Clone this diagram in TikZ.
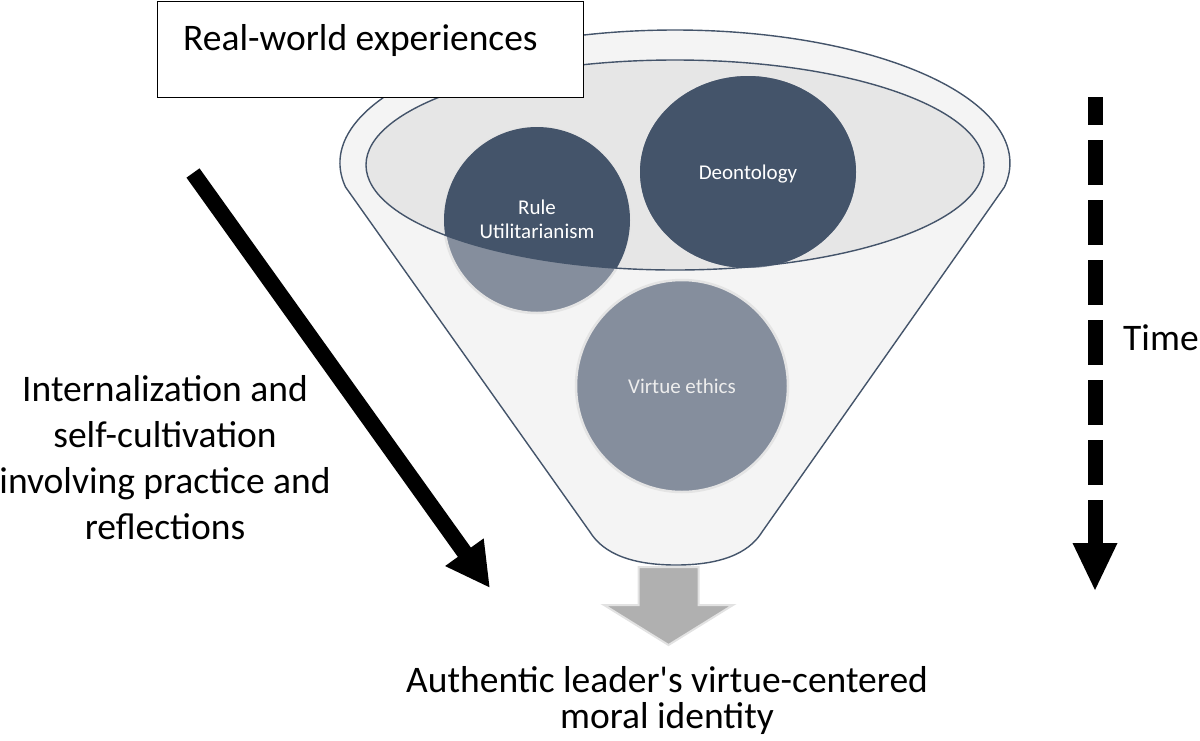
\documentclass[tikz,border=0pt]{standalone}
\usepackage{fontspec}
\setmainfont{Carlito}
\newfontfamily\straightq{Carlito}[Ligatures=ResetAll]
\usetikzlibrary{arrows.meta}
\definecolor{slate}{HTML}{44546A}
\definecolor{slatelt}{HTML}{858E9D}
\definecolor{rimfill}{HTML}{E6E6E6}
\definecolor{funfill}{HTML}{F4F4F4}
\definecolor{glow}{HTML}{E4E4E4}
\definecolor{grayarr}{HTML}{B0B0B0}
\definecolor{grayedge}{HTML}{E2E2E2}
\tikzset{
  bigtext/.style={font=\fontsize{37.5}{46}\selectfont, text=black, inner sep=0pt},
  circtext/.style={font=\fontsize{21}{24}\selectfont, text=white, align=center, inner sep=0pt},
  funline/.style={draw=slate, line width=1.4pt},
  glowline/.style={draw=glow, line width=2.5pt},
}
\begin{document}
\begin{tikzpicture}[x=1pt,y=-1pt]
\useasboundingbox (0,0) rectangle (1200,740);

% funnel body
\path[funline, fill=funfill] (345.5,187) arc[start angle=169.6, end angle=370.4, x radius=335, y radius=133]
  -- (762,532) .. controls (752,548) and (730,565) .. (676,565)
  .. controls (622,565) and (600,548) .. (590,532) -- cycle;

% inner rim
\fill[rimfill] (675,165) ellipse[x radius=309, y radius=105];

% circles (light parts + glow)
\path[glowline, fill=slatelt] (682,386) circle[radius=106];
\path[glowline, fill=slatelt] (537,220) circle[radius=93];
\path[fill=slatelt] (748,172) ellipse[x radius=108, y radius=96];

% dark parts inside the rim
\begin{scope}
  \clip (675,165) ellipse[x radius=309, y radius=105];
  \fill[slate] (537,220) circle[radius=93];
  \fill[slate] (748,172) ellipse[x radius=108, y radius=96];
\end{scope}
\draw[funline] (675,165) ellipse[x radius=309, y radius=105];

% circle labels
\node[circtext] (ru) at (537,219) {Rule\\Utilitarianism};
\node[circtext] (deo) at (748,174) {Deontology};
\node[circtext, text=white!93!black] (vir) at (682,386) {Virtue ethics};

% output arrow
\path[fill=grayarr, draw=grayedge, line width=2pt]
  (638.5,567) -- (698.5,567) -- (698.5,605) -- (733,605) -- (668.5,645)
  -- (604,605) -- (638.5,605) -- cycle;

% box
\node[draw=black, fill=white, line width=1.3pt, minimum width=426pt, minimum height=96pt,
  anchor=north west, inner sep=0pt] (box) at (157,1) {};
\node[bigtext, anchor=base west] (real) at (183,50) {Real-world experiences};

% diagonal arrow
\coordinate (d1) at (193,173);
\coordinate (d2) at (490,588);
\draw[line width=16pt, -{Triangle[width=44pt,length=44pt]}] (d1) -- (d2);

% time arrow
\coordinate (t1) at (1095,97);
\coordinate (t2) at (1095,543);
\draw[line width=15pt, dash pattern=on 45pt off 15pt, dash phase=17pt] (t1) -- (t2);
\fill[black] (1072.5,543) -- (1117.5,543) -- (1095,590) -- cycle;
\node[bigtext, anchor=base west] (time) at (1123,350) {Time};

% texts
\node[bigtext, align=center] (intl) at (165,458)
  {Internalization and\\self-cultivation\\involving practice and\\reflections};
\node[bigtext, align=center, font=\fontsize{37.5}{36}\selectfont] (auth) at (667,700)
  {Authentic leader{\straightq'}s virtue-centered\\moral identity};
\end{tikzpicture}
\end{document}
